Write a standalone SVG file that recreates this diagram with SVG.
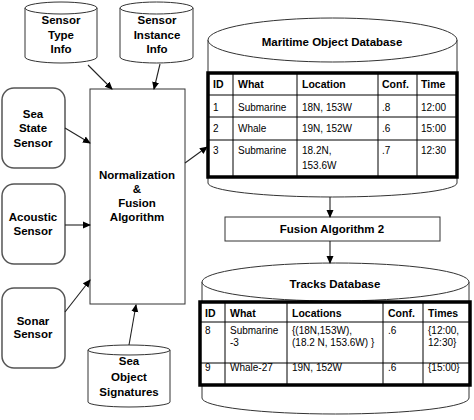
<svg xmlns="http://www.w3.org/2000/svg" width="474" height="420" viewBox="0 0 474 420">
<defs>
<marker id="ah" markerWidth="8" markerHeight="8" refX="7" refY="4" orient="auto" markerUnits="userSpaceOnUse">
<path d="M0,0.5 L8,4 L0,7.5 z" fill="#000"/>
</marker>
<style>
.b{font-family:"Liberation Sans",Arial,sans-serif;font-weight:bold;font-size:11.5px;fill:#000;text-anchor:middle}
.h{font-family:"Liberation Sans",Arial,sans-serif;font-weight:bold;font-size:10.5px;fill:#000}
.t{font-family:"Liberation Sans",Arial,sans-serif;font-size:10px;fill:#000}
.s{fill:#fff;stroke:#333;stroke-width:1}
.rr{fill:#fff;stroke:#555;stroke-width:1.5}
.tb{fill:#fff;stroke:#000;stroke-width:3.5}
.g{stroke:#000;stroke-width:1;fill:none}
.c{stroke:#222;stroke-width:1.1;fill:none;marker-end:url(#ah)}
</style>
</defs>
<rect width="474" height="420" fill="#fff"/>

<g id="sensor-type-info">
<path class="s" d="M25,8 L25,57 A36,6 0 0 0 97,57 L97,8"/>
<ellipse class="s" cx="61" cy="8" rx="36" ry="6"/>
<text class="b" x="61" y="24">Sensor</text>
<text class="b" x="61" y="39">Type</text>
<text class="b" x="61" y="53">Info</text>
</g>

<g id="sensor-instance-info">
<path class="s" d="M120,8 L120,57 A36.5,6 0 0 0 193,57 L193,8"/>
<ellipse class="s" cx="156.5" cy="8" rx="36.5" ry="6"/>
<text class="b" x="157" y="24">Sensor</text>
<text class="b" x="157" y="39">Instance</text>
<text class="b" x="157" y="53">Info</text>
</g>

<g id="sea-state-sensor">
<rect class="rr" x="2" y="88" width="63" height="80" rx="12"/>
<text class="b" x="33" y="118">Sea</text>
<text class="b" x="33" y="132">State</text>
<text class="b" x="33" y="147">Sensor</text>
</g>

<g id="acoustic-sensor">
<rect class="rr" x="2" y="184" width="63" height="80" rx="12"/>
<text class="b" x="33" y="221">Acoustic</text>
<text class="b" x="33" y="235">Sensor</text>
</g>

<g id="sonar-sensor">
<rect class="rr" x="2" y="288" width="63" height="80" rx="12"/>
<text class="b" x="33" y="325">Sonar</text>
<text class="b" x="33" y="338">Sensor</text>
</g>

<g id="normalization-fusion">
<rect class="s" x="90" y="89" width="95" height="215"/>
<text class="b" x="137" y="179">Normalization</text>
<text class="b" x="137" y="193">&amp;</text>
<text class="b" x="137" y="207">Fusion</text>
<text class="b" x="137" y="221">Algorithm</text>
</g>

<g id="sea-object-signatures">
<path class="s" d="M88,350 L88,402 A41,5 0 0 0 170,402 L170,350"/>
<ellipse class="s" cx="129" cy="350" rx="41" ry="5"/>
<text class="b" x="129" y="365">Sea</text>
<text class="b" x="129" y="381">Object</text>
<text class="b" x="129" y="396">Signatures</text>
</g>

<g id="maritime-object-database">
<path class="s" d="M208,40 L208,183 A124.5,14 0 0 0 457,183 L457,40"/>
<ellipse class="s" cx="332.5" cy="40" rx="124.5" ry="22"/>
<text class="b" x="332" y="46">Maritime Object Database</text>
<rect class="tb" x="208" y="73" width="249" height="104"/>
<path class="g" d="M208,95 H457 M208,117 H457 M208,140 H457 M233,73 V177 M297,73 V177 M378,73 V177 M417,73 V177"/>
<text class="h" x="213" y="88">ID</text>
<text class="h" x="238" y="88">What</text>
<text class="h" x="302" y="88">Location</text>
<text class="h" x="382" y="88">Conf.</text>
<text class="h" x="421" y="88">Time</text>
<text class="t" x="213" y="111">1</text>
<text class="t" x="238" y="111">Submarine</text>
<text class="t" x="302" y="111">18N, 153W</text>
<text class="t" x="382" y="111">.8</text>
<text class="t" x="421" y="111">12:00</text>
<text class="t" x="213" y="132">2</text>
<text class="t" x="238" y="132">Whale</text>
<text class="t" x="302" y="132">19N, 152W</text>
<text class="t" x="382" y="132">.6</text>
<text class="t" x="421" y="132">15:00</text>
<text class="t" x="213" y="154">3</text>
<text class="t" x="238" y="154">Submarine</text>
<text class="t" x="302" y="154">18.2N,</text>
<text class="t" x="302" y="169">153.6W</text>
<text class="t" x="382" y="154">.7</text>
<text class="t" x="421" y="154">12:30</text>
</g>

<g id="fusion-algorithm-2">
<rect class="s" x="225" y="217" width="215" height="24"/>
<text class="b" x="332" y="233">Fusion Algorithm 2</text>
</g>

<g id="tracks-database">
<path class="s" d="M202,282 L202,398 A133.5,16 0 0 0 469,398 L469,282"/>
<ellipse class="s" cx="335.5" cy="282" rx="133.5" ry="19"/>
<text class="b" x="335" y="288">Tracks Database</text>
<rect class="tb" x="200" y="302" width="270" height="83"/>
<path class="g" d="M200,322 H470 M200,363 H470 M225,302 V385 M287,302 V385 M383,302 V385 M423,302 V385"/>
<text class="h" x="205" y="317">ID</text>
<text class="h" x="230" y="317">What</text>
<text class="h" x="292" y="317">Locations</text>
<text class="h" x="388" y="317">Conf.</text>
<text class="h" x="428" y="317">Times</text>
<text class="t" x="205" y="334">8</text>
<text class="t" x="230" y="334">Submarine</text>
<text class="t" x="230" y="346">-3</text>
<text class="t" x="292" y="334">{(18N,153W),</text>
<text class="t" x="292" y="346">(18.2 N, 153.6W) }</text>
<text class="t" x="388" y="334">.6</text>
<text class="t" x="428" y="334">{12:00,</text>
<text class="t" x="428" y="346">12:30}</text>
<text class="t" x="205" y="371">9</text>
<text class="t" x="230" y="371">Whale-27</text>
<text class="t" x="292" y="371">19N, 152W</text>
<text class="t" x="388" y="371">.6</text>
<text class="t" x="428" y="371">{15:00}</text>
</g>

<g id="connectors">
<line class="c" x1="88" y1="65" x2="112" y2="89"/>
<line class="c" x1="160" y1="64" x2="154" y2="89"/>
<line class="c" x1="65" y1="128" x2="90" y2="143"/>
<line class="c" x1="65" y1="225" x2="90" y2="225"/>
<line class="c" x1="65" y1="312" x2="90" y2="280"/>
<line class="c" x1="129" y1="345" x2="136" y2="305"/>
<line class="c" x1="185" y1="163" x2="207" y2="147"/>
<line class="c" x1="330" y1="197" x2="330" y2="217"/>
<line class="c" x1="330" y1="241" x2="330" y2="263"/>
</g>
</svg>
